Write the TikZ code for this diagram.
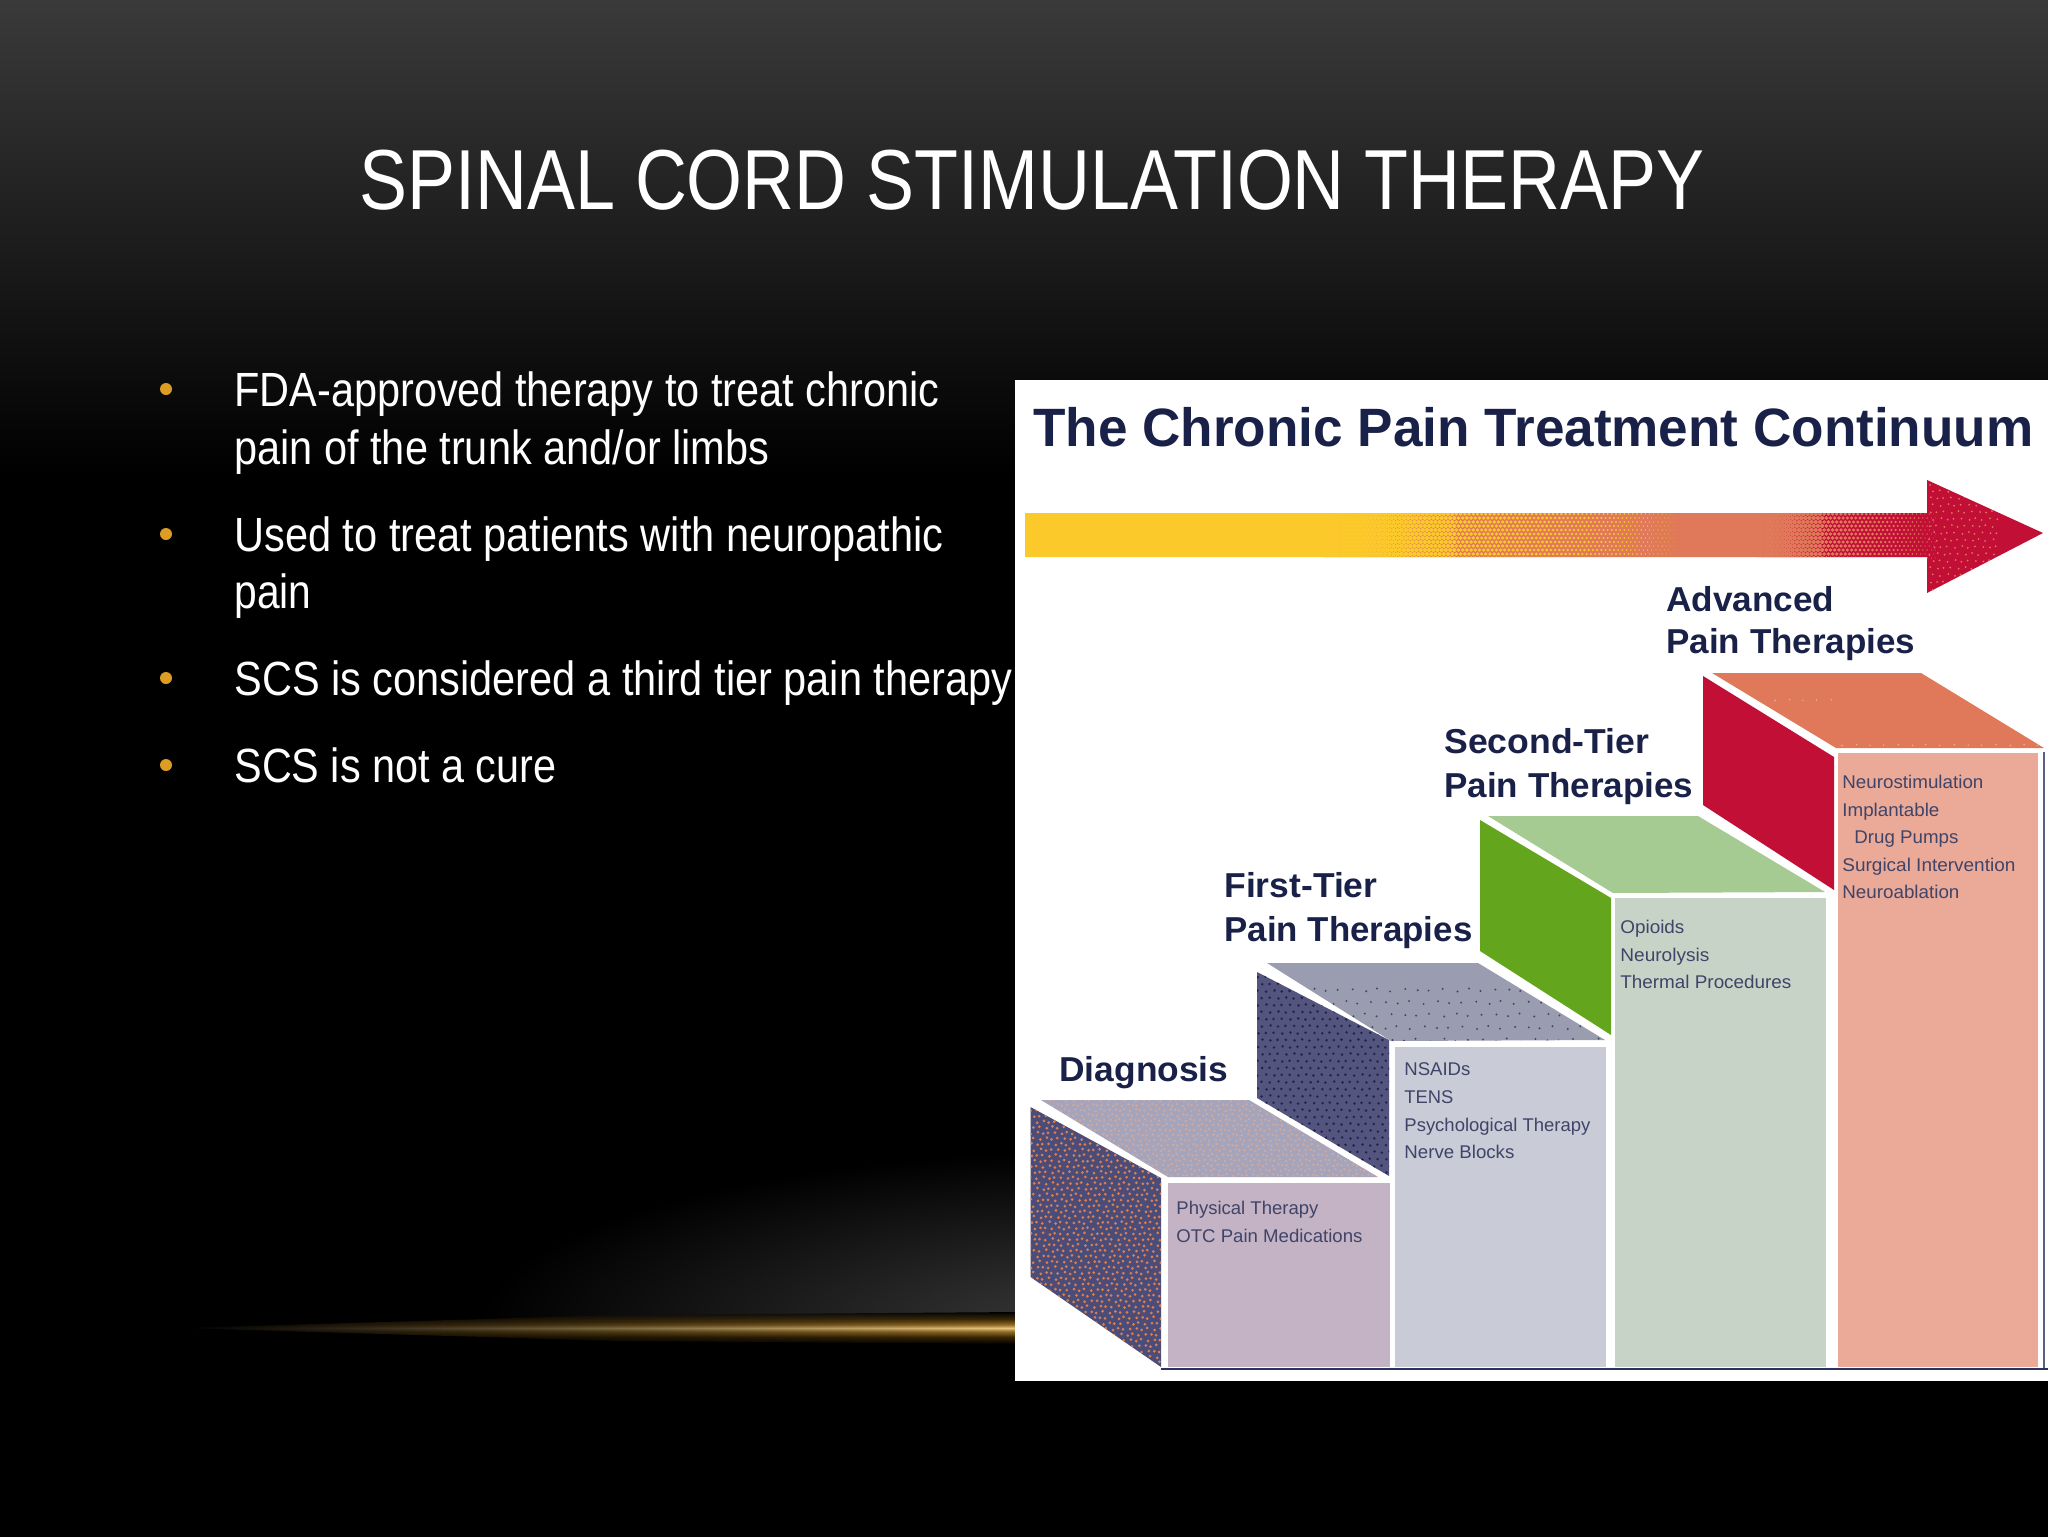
\documentclass[tikz,border=0pt]{standalone}
\usepackage{graphicx}
\usepackage{fontspec}
\setmainfont{Liberation Sans}
\usetikzlibrary{calc,fadings}
\definecolor{navyhead}{HTML}{1A2148}
\definecolor{navysmall}{HTML}{3F4468}
\definecolor{bulletgold}{HTML}{DD9D22}
\definecolor{ayellow}{HTML}{FBC92A}
\definecolor{aorange}{HTML}{E0785A}
\definecolor{acrimson}{HTML}{C20F35}
\definecolor{frontfour}{HTML}{EBA998}
\definecolor{frontthree}{HTML}{C8D3C7}
\definecolor{fronttwo}{HTML}{C9CBD6}
\definecolor{frontone}{HTML}{C4B3C4}
\definecolor{greenside}{HTML}{64A51E}
\definecolor{greentop}{HTML}{A5CB92}
\definecolor{navyside}{HTML}{53557F}
\definecolor{navydots}{HTML}{22244A}
\definecolor{greytop}{HTML}{9A9CB0}
\definecolor{greydots}{HTML}{44466A}
\definecolor{diagside}{HTML}{4C4C78}
\definecolor{diagdots}{HTML}{D97F55}
\definecolor{diagtop}{HTML}{A4A4BC}
\definecolor{diagtopdots}{HTML}{CFA9A0}
\definecolor{bottomline}{HTML}{2B3560}
\definecolor{edgeline}{HTML}{5A6080}
\definecolor{orangespeck}{HTML}{F0B49A}
\definecolor{halofar}{HTML}{3A2806}
\definecolor{halonear}{HTML}{9A7128}
\definecolor{halocore}{HTML}{EBC981}
\pgfdeclareverticalshading{goldhalo}{100bp}{color(0bp)=(black); color(25bp)=(black); color(36bp)=(halofar); color(45bp)=(halonear); color(50bp)=(halocore); color(55bp)=(halonear); color(64bp)=(halofar); color(75bp)=(black); color(100bp)=(black)}
\tikzfading[name=goldfade,left color=transparent!100,middle color=transparent!55,right color=transparent!0]
\newsavebox{\fitbox}
% typeset #2, then squeeze it horizontally to #1 reference pixels
\newcommand{\fitx}[2]{\sbox{\fitbox}{#2}\pgfmathsetmacro{\fitr}{#1*0.5/\wd\fitbox}\scalebox{\fitr}[1]{\usebox{\fitbox}}}
\newcommand{\fsz}[1]{\fontsize{#1}{#1}\selectfont}
\newcommand{\dotfield}[9]{% x0 y0 nx ny dx dy r colour jitter
  \fill[#8] \foreach \i in {0,...,#3}{\foreach \j in {0,...,#4}{
    ({#1+\i*#5+mod(\j,2)*#5/2+#9*sin(\i*97+\j*211)},{#2+\j*#6+#9*cos(\i*151+\j*73)}) circle[radius=#7]}};}
\tikzset{
  slidetitle/.style={anchor=base west,inner sep=0pt,text=white},
  bodyline/.style={anchor=base west,inner sep=0pt,text=white},
  headline/.style={anchor=base west,inner sep=0pt,text=navyhead},
  smallline/.style={anchor=base west,inner sep=0pt,text=navysmall},
}
\begin{document}
\begin{tikzpicture}[x=0.5pt,y=-0.5pt]
\useasboundingbox (0,0) rectangle (2048,1536);
% slide background
\fill[black] (-6,-6) rectangle (2054,1542);
\shade[top color=black!77!white,bottom color=black] (-6,-6) rectangle (2054,475);
% glow above the gold line
\begin{scope}
  \clip (0,1100) rectangle (1020,1320);
  \shade[inner color=black!77!white,outer color=black] (1120,1325) ellipse [x radius=640,y radius=175];
\end{scope}
% gold line with halo
\begin{scope}
  \clip (180,1328) -- (620,1315) -- (1020,1312) -- (1020,1344) -- (620,1341) -- cycle;
  \shade[shading=goldhalo,path fading=goldfade] (180,1312) rectangle (1020,1344);
\end{scope}
% bullets
\foreach \by in {389,534,678,765}{\fill[bulletgold] (166,\by) circle[radius=6];}
% title and bullet text
\node[slidetitle] (title) at (359,209) {\fitx{1345}{\fsz{42.6}SPINAL CORD STIMULATION THERAPY}};
\node[bodyline] (b1a) at (234,406) {\fitx{705}{\fsz{24}FDA-approved therapy to treat chronic}};
\node[bodyline] (b1b) at (234,464) {\fitx{535}{\fsz{24}pain of the trunk and/or limbs}};
\node[bodyline] (b2a) at (234,551) {\fitx{709}{\fsz{24}Used to treat patients with neuropathic}};
\node[bodyline] (b2b) at (234,608) {\fitx{77}{\fsz{24}pain}};
\node[bodyline] (b3) at (234,695) {\fitx{778}{\fsz{24}SCS is considered a third tier pain therapy}};
\node[bodyline] (b4) at (234,782) {\fitx{322}{\fsz{24}SCS is not a cure}};
% picture panel
\fill[white] (1015,380) rectangle (2054,1381);
% continuum arrow
\begin{scope}
  \clip (1025,513) -- (1927,513) -- (1927,480) -- (2043,533) -- (1927,593) -- (1927,557) -- (1025,557) -- cycle;
  \fill[ayellow] (1025,470) rectangle (1327,600);
  \fill[aorange] (1326,470) rectangle (1762,600);
  \fill[acrimson] (1761,470) rectangle (2054,600);
  \fill[ayellow] \foreach \i in {0,...,84}{\foreach \j in {0,...,11}{
    ({1322+\i*4.2+mod(\j,2)*2.1},{514+\j*4}) circle[radius={2.5*sqrt(1-\i/85)}]}};
  \fill[aorange] \foreach \i in {0,...,42}{\foreach \j in {0,...,11}{
    ({1757+\i*4.2+mod(\j,2)*2.1},{514+\j*4}) circle[radius={2.5*sqrt(1-\i/43)}]}};
  \dotfield{1930}{484}{9}{15}{7}{7}{1}{aorange}{1}
\end{scope}
\node[headline] (panelhead) at (1033,446) {\fitx{1000}{\fsz{27}\bfseries The Chronic Pain Treatment Continuum}};
% step 4 (advanced)
\fill[frontfour] (1838,753) rectangle (2038,1367);
\fill[acrimson] (1703,676) -- (1834,757) -- (1834,890) -- (1703,805) -- cycle;
\fill[aorange] (1712,673) -- (1921,673) -- (2044,748) -- (1836,748) -- cycle;
\dotfield{1775}{700}{4}{0}{14}{10}{0.8}{orangespeck}{0.5}
\dotfield{1842}{745}{14}{0}{14}{10}{0.8}{orangespeck}{0.5}
% step 3 (second tier)
\fill[frontthree] (1615,898) rectangle (1826,1367);
\fill[greenside] (1480,820) -- (1611,898) -- (1611,1035) -- (1480,951) -- cycle;
\fill[greentop] (1488,816) -- (1698,816) -- (1825,892) -- (1613,893) -- cycle;
% step 2 (first tier)
\fill[fronttwo] (1395,1047) rectangle (1606,1367);
\begin{scope}
  \clip (1257,972) -- (1389,1040) -- (1389,1176) -- (1257,1098) -- cycle;
  \fill[navyside] (1250,965) rectangle (1395,1180);
  \dotfield{1254}{970}{17}{30}{8}{7}{1.4}{navydots}{0.6}
\end{scope}
\begin{scope}
  \clip (1267,963) -- (1478,963) -- (1605,1040) -- (1391,1041) -- cycle;
  \fill[greytop] (1260,960) rectangle (1610,1045);
  \dotfield{1300}{990}{24}{4}{13}{12.5}{1.1}{greydots}{1.5}
\end{scope}
% step 1 (diagnosis)
\fill[frontone] (1168,1183) rectangle (1390,1367);
\begin{scope}
  \clip (1030.5,1107) -- (1161,1178) -- (1161,1367) -- (1030.5,1277) -- cycle;
  \fill[diagside] (1025,1100) rectangle (1165,1370);
  \dotfield{1028}{1105}{22}{46}{6}{5.6}{1.5}{diagdots}{1}
\end{scope}
\begin{scope}
  \clip (1041,1100) -- (1249,1100) -- (1378,1177) -- (1168,1177) -- cycle;
  \fill[diagtop] (1035,1095) rectangle (1385,1180);
  \dotfield{1040}{1100}{68}{16}{5}{5}{1.4}{diagtopdots}{1}
\end{scope}
% frame lines
\draw[bottomline,line width=1.2pt] (1161,1369) -- (2054,1369);
\draw[edgeline,line width=1pt] (2044,752) -- (2044,1368);
% heading labels
\node[headline] (advA) at (1666,611) {\fitx{168}{\fsz{17.3}\bfseries Advanced}};
\node[headline] (advB) at (1666,653) {\fitx{249}{\fsz{17.3}\bfseries Pain Therapies}};
\node[headline] (secA) at (1444,753) {\fitx{205}{\fsz{17.3}\bfseries Second-Tier}};
\node[headline] (secB) at (1444,797) {\fitx{249}{\fsz{17.3}\bfseries Pain Therapies}};
\node[headline] (firA) at (1224,897) {\fitx{153}{\fsz{17.3}\bfseries First-Tier}};
\node[headline] (firB) at (1224,941) {\fitx{248}{\fsz{17.3}\bfseries Pain Therapies}};
\node[headline] (diag) at (1059,1081) {\fitx{169}{\fsz{17.3}\bfseries Diagnosis}};
% step contents
\node[smallline] (s1a) at (1176,1214) {\fitx{142}{\fsz{9.2}Physical Therapy}};
\node[smallline] (s1b) at (1176,1242) {\fitx{186}{\fsz{9.2}OTC Pain Medications}};
\node[smallline] (s2a) at (1404,1075) {\fitx{66}{\fsz{9.2}NSAIDs}};
\node[smallline] (s2b) at (1404,1103) {\fitx{49}{\fsz{9.2}TENS}};
\node[smallline] (s2c) at (1404,1131) {\fitx{186}{\fsz{9.2}Psychological Therapy}};
\node[smallline] (s2d) at (1404,1158) {\fitx{110}{\fsz{9.2}Nerve Blocks}};
\node[smallline] (s3a) at (1620,933) {\fitx{64}{\fsz{9.2}Opioids}};
\node[smallline] (s3b) at (1620,961) {\fitx{89}{\fsz{9.2}Neurolysis}};
\node[smallline] (s3c) at (1620,988) {\fitx{171}{\fsz{9.2}Thermal Procedures}};
\node[smallline] (s4a) at (1842,788) {\fitx{141}{\fsz{9.2}Neurostimulation}};
\node[smallline] (s4b) at (1842,816) {\fitx{97}{\fsz{9.2}Implantable}};
\node[smallline] (s4c) at (1854,843) {\fitx{104}{\fsz{9.2}Drug Pumps}};
\node[smallline] (s4d) at (1842,871) {\fitx{173}{\fsz{9.2}Surgical Intervention}};
\node[smallline] (s4e) at (1842,898) {\fitx{117}{\fsz{9.2}Neuroablation}};
\end{tikzpicture}
\end{document}
